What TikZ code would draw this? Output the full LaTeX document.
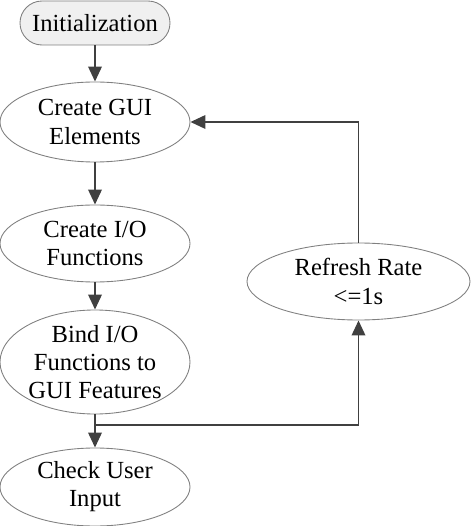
\documentclass[tikz,border=0pt]{standalone}
\usepackage{fontspec}
\setmainfont{Liberation Serif}
\usepackage{tikz}
\usetikzlibrary{shapes.geometric,arrows.meta}
\definecolor{edge}{RGB}{64,64,64}
\definecolor{rim}{RGB}{128,128,128}
\definecolor{pale}{RGB}{240,240,240}

\tikzset{
  stage/.style={ellipse, draw=rim, line width=0.5pt, fill=white, inner sep=0pt,
    align=center, font=\fontsize{14}{16}\selectfont, minimum width=3.8cm},
  startbox/.style={rectangle, rounded corners=0.44cm, draw=rim, line width=0.5pt,
    fill=pale, inner sep=0pt, font=\fontsize{14}{16}\selectfont,
    minimum width=3.0cm, minimum height=0.88cm},
  flow/.style={draw=edge, line width=1.1pt,
    -{Triangle[length=0.3cm, width=0.27cm]}},
  link/.style={draw=edge, line width=1.1pt}
}

\begin{document}
\begin{tikzpicture}
  \useasboundingbox (0,0) rectangle (9.48,-10.52);

  %% Stages
  \node[startbox] (init) at (1.9,-0.46) {Initialization};
  \node[stage, minimum height=1.6cm] (gui) at (1.9,-2.44) {Create GUI\\Elements};
  \node[stage, minimum height=1.54cm] (io) at (1.9,-4.87) {Create I/O\\Functions};
  \node[stage, minimum height=2.0cm] (bind) at (1.9,-7.24) {Bind I/O\\Functions to\\GUI Features};
  \node[stage, minimum height=1.56cm] (check) at (1.9,-9.74) {Check User\\Input};

  %% Refresh loop
  \node[stage, minimum width=4.46cm, minimum height=1.54cm] (refresh) at (7.17,-5.63) {Refresh Rate\\<=1s};
  \coordinate (split) at (1.9,-8.5);

  %% Main flow
  \draw[flow] (init) -- (gui);
  \draw[flow] (gui) -- (io);
  \draw[flow] (io) -- (bind);
  \draw[flow] (bind) -- (check);

  %% Feedback
  \draw[flow] (split) -| (refresh.south);
  \draw[flow] (refresh.north) |- (gui.east);

\end{tikzpicture}
\end{document}
